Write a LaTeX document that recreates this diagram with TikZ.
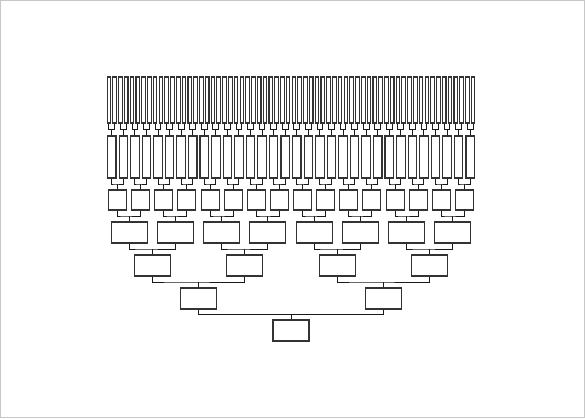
\documentclass[tikz,border=0pt]{standalone}
\usetikzlibrary{calc}
\newcommand\forkto[3]{%
  \coordinate (fm) at ($(#1.south)!0.5!(#3.north)$);
  \draw[link] (#1.south) |- (fm) -| (#2.south);
  \draw[link] (#3.north) -- (#3.north |- fm);
}
\begin{document}
\begin{tikzpicture}[x=1pt,y=-1pt,
  box/.style={draw=black!80, line width=1.1pt, inner sep=0pt, rectangle, fill=white},
  link/.style={draw=black!90, line width=1pt}]
\useasboundingbox (0,0) rectangle (585,418);
\draw[black!22, line width=1pt] (0.5,0.5) rectangle (584.5,417.5);
% level 7: 64 boxes
\foreach \i in {0,...,63}
  \node[box, minimum width=3.6pt, minimum height=46pt] (a\i) at ({106+5.78125*(\i+0.5)},100) {};
% level 6: 32 boxes
\foreach \i in {0,...,31}
  \node[box, minimum width=8.5pt, minimum height=42pt] (b\i) at ({106+11.5625*(\i+0.5)},157) {};
% level 5: 16 boxes
\foreach \i in {0,...,15}
  \node[box, minimum width=18pt, minimum height=20pt] (c\i) at ({106+23.125*(\i+0.5)},200) {};
% level 4: 8 boxes
\foreach \i in {0,...,7}
  \node[box, minimum width=36pt, minimum height=21pt] (d\i) at ({106+46.25*(\i+0.5)},232.5) {};
% level 3: 4 boxes
\foreach \i in {0,...,3}
  \node[box, minimum width=36pt, minimum height=21pt] (e\i) at ({106+92.5*(\i+0.5)},265.5) {};
% level 2: 2 boxes
\foreach \i in {0,...,1}
  \node[box, minimum width=36pt, minimum height=21pt] (f\i) at ({106+185*(\i+0.5)},298.5) {};
% level 1
\node[box, minimum width=36pt, minimum height=21pt] (g0) at (291,330.5) {};
% forks
\foreach \j [evaluate=\j as \p using int(2*\j), evaluate=\j as \q using int(2*\j+1)] in {0,...,31}
  {\forkto{a\p}{a\q}{b\j}}
\foreach \j [evaluate=\j as \p using int(2*\j), evaluate=\j as \q using int(2*\j+1)] in {0,...,15}
  {\forkto{b\p}{b\q}{c\j}}
\foreach \j [evaluate=\j as \p using int(2*\j), evaluate=\j as \q using int(2*\j+1)] in {0,...,7}
  {\forkto{c\p}{c\q}{d\j}}
\foreach \j [evaluate=\j as \p using int(2*\j), evaluate=\j as \q using int(2*\j+1)] in {0,...,3}
  {\forkto{d\p}{d\q}{e\j}}
\foreach \j [evaluate=\j as \p using int(2*\j), evaluate=\j as \q using int(2*\j+1)] in {0,...,1}
  {\forkto{e\p}{e\q}{f\j}}
\forkto{f0}{f1}{g0}
\end{tikzpicture}
\end{document}
